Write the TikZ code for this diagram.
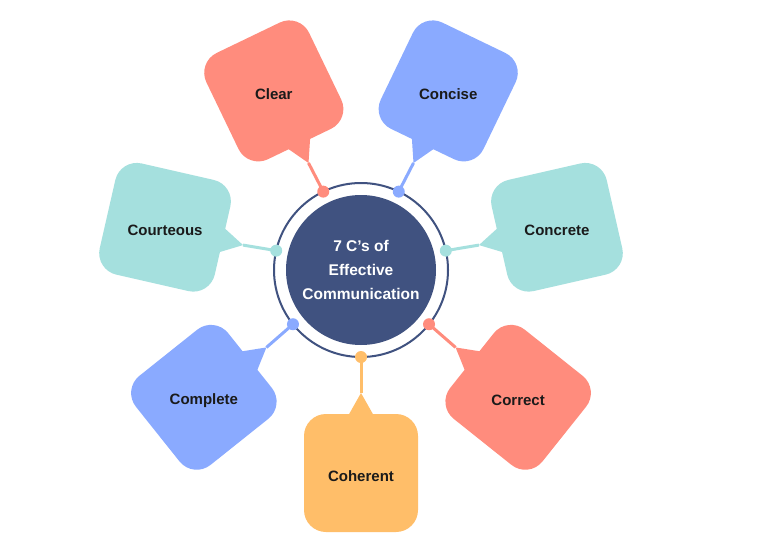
\documentclass[tikz,border=0pt]{standalone}
\usepackage{fontspec}
\setmainfont{Liberation Sans}
\usetikzlibrary{calc}
\definecolor{cSalmon}{HTML}{FF8C7D}
\definecolor{cBlue}{HTML}{8AAAFF}
\definecolor{cTeal}{HTML}{A5E0DE}
\definecolor{cOrange}{HTML}{FFBE69}
\definecolor{cNavy}{HTML}{405280}
\definecolor{cText}{HTML}{1A1A1A}
\tikzset{
  boxlabel/.style={text=cText, font=\fontsize{15}{18}\selectfont\bfseries, inner sep=0pt, yshift=-3pt},
  ringline/.style={draw=cNavy, line width=2pt},
  conn/.style={line width=3pt},
}
\begin{document}
\begin{tikzpicture}[x=1pt,y=1pt]
\useasboundingbox[fill=white] (0,0) rectangle (768,-543);
\coordinate (C) at (361,-270);
\coordinate (B) at (361,-272);
% ring and centre
\draw[ringline] (C) circle (87);
\fill[cNavy] (C) circle (75);
\node[align=center, text=white, font=\fontsize{15.5}{24}\selectfont\bfseries, inner sep=0pt] (centre) at (C) {7 C’s of\\Effective\\Communication};
\foreach \k/\txt/\col in {0/Coherent/cOrange,1/Correct/cSalmon,2/Concrete/cTeal,3/Concise/cBlue,4/Clear/cSalmon,5/Courteous/cTeal,6/Complete/cBlue}{
  \pgfmathsetmacro\ang{-90+\k*360/7}
  \coordinate (apex\k) at ($(B)+(\ang:121)$);
  \coordinate (dot\k) at ($(C)+(\ang:87)$);
  \draw[conn, draw=\col] (apex\k) -- (dot\k);
  \fill[\col] (dot\k) circle (6);
  \begin{scope}[shift={(B)}, rotate=\ang]
    \fill[\col, rounded corners=22] (142,-57) rectangle (260,57);
    \fill[\col] (144,-13) -- (121,0) -- (144,13) -- cycle;
  \end{scope}
  \node[boxlabel] (lab\k) at ($(B)+(\ang:201)$) {\txt};
}
\end{tikzpicture}
\end{document}
